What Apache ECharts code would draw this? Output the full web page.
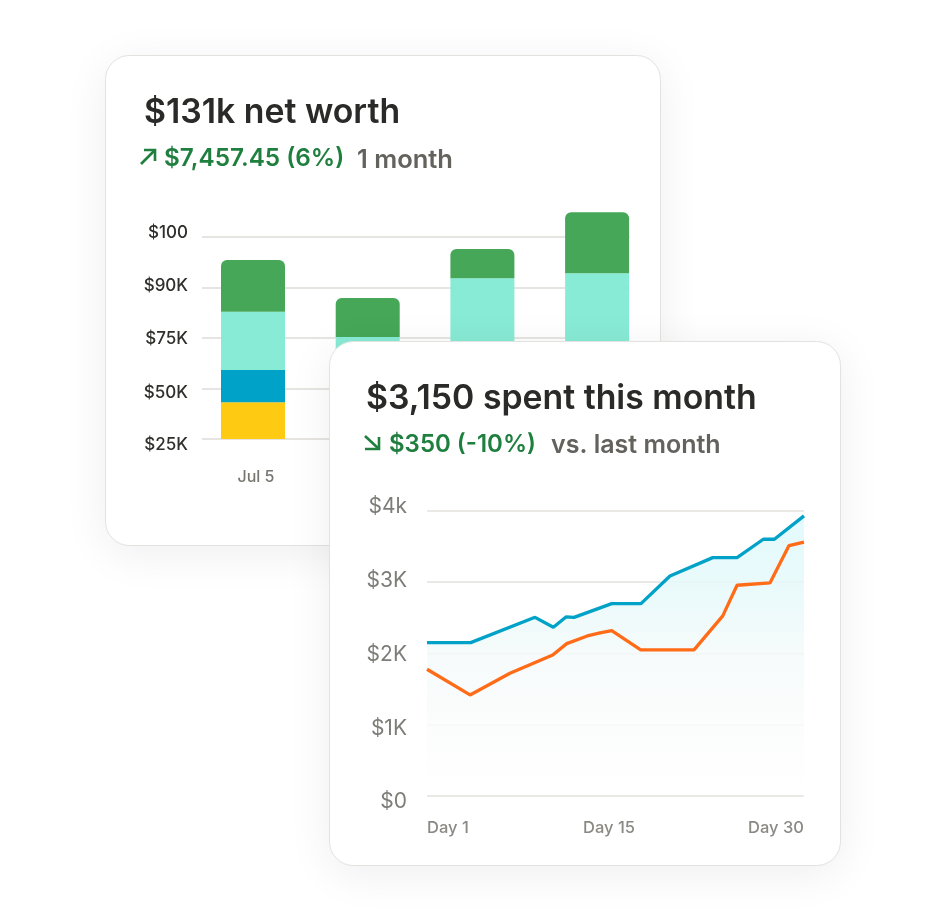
<!DOCTYPE html>
<html>
<head>
<meta charset="utf-8">
<title>Net worth and spending</title>
<script src="https://cdn.jsdelivr.net/npm/echarts@6/dist/echarts.min.js"></script>
<style>
  html, body { margin: 0; padding: 0; background: #fff; }
  #chart { width: 944px; height: 920px; }
</style>
</head>
<body>
<div id="chart"></div>
<script>
// bar card: the axis is evenly spaced but its labels are not, so values are in axis units
var barLabels = ['Jul 5', '', '', ''];
var barTicks = [25, 50, 75, 100, 125];
var barTickLabels = ['$25K', '$50K', '$75K', '$90K', '$100'];
var yellowValues = [43.1, 43.1, 43.1, 43.1];
var blueValues = [16, 16, 16, 16];
var mintValues = [28.8, 16.3, 45.3, 47.7];
var greenValues = [25.5, 19.2, 14.4, 30.2];

// line card
var lineTickLabels = ['$0', '$1K', '$2K', '$3K', '$4k'];
var lineDayTicks = [1, 15, 30];
var blueDays = [1, 4.36, 9.31, 10.72, 11.69, 12.31, 15.21, 17.46, 19.69, 22.98, 24.85, 26.87, 27.72, 30];
var blueSpend = [2150, 2150, 2505, 2366, 2510, 2505, 2697, 2697, 3085, 3342, 3342, 3600, 3600, 3927];
var orangeDays = [1, 4.31, 7.38, 10.67, 11.75, 13.33, 14.31, 15.21, 17.44, 21.54, 23.75, 24.85, 27.38, 28.85, 30];
var orangeSpend = [1777, 1417, 1721, 1978, 2136, 2244, 2286, 2318, 2048, 2048, 2525, 2955, 2987, 3511, 3558];

var FONT = 'Inter';
var labelShift = [5.5, 4.5, 1, -1, -4]; // tick labels drift away from their lines

function pairs(xs, ys) {
  return xs.map(function (x, i) { return [x, ys[i]]; });
}

// rich styles that nudge each tick label up or down
function shiftedLabels(fontSize, color, weight) {
  var rich = {};
  labelShift.forEach(function (s, i) {
    rich['t' + i] = {
      fontFamily: FONT, fontSize: fontSize, color: color, fontWeight: weight,
      padding: s > 0 ? [s * 2, 0, 0, 0] : [0, 0, -s * 2, 0]
    };
  });
  return rich;
}

function heading(text, left, top, size, color, weight) {
  return {
    text: text, left: left, top: top, padding: 0, z: 9,
    textStyle: { fontFamily: FONT, fontSize: size, color: color, fontWeight: weight }
  };
}

function card(x, y, w, h, z) {
  return {
    type: 'rect', z: z,
    shape: { x: x, y: y, width: w, height: h, r: 24 },
    style: {
      fill: '#fff', stroke: '#e2e2df', lineWidth: 1,
      shadowBlur: 45, shadowColor: 'rgba(0,0,0,0.07)', shadowOffsetY: 8
    }
  };
}

function arrow(points, head, z) {
  var style = { fill: 'none', stroke: '#1f7f3f', lineWidth: 2.6 };
  return [
    { type: 'polyline', z: z, shape: { points: points }, style: style },
    { type: 'polyline', z: z, shape: { points: head }, style: style }
  ];
}

// bars live in their own taller grid so the tallest one can rise above the $100 line
function barSeries(name, values, color, radius) {
  return {
    name: name, type: 'bar', stack: 'worth', xAxisIndex: 1, yAxisIndex: 1,
    barWidth: 64, z: 2,
    itemStyle: { color: color, borderRadius: radius },
    data: values
  };
}

var chart = echarts.init(document.getElementById('chart'));

chart.setOption({
  animation: false,
  backgroundColor: '#fff',
  title: [
    heading('$131k net worth', 144, 96, 33.8, '#2a2a28', 600),
    heading('$7,457.45 (6%)', 164, 147, 24.3, '#1f7f3f', 600),
    heading('1 month', 357, 147, 25.5, '#63625d', 600),
    heading('$3,150 spent this month', 366, 382, 33.8, '#2a2a28', 600),
    heading('$350 (-10%)', 389, 433, 24, '#1f7f3f', 600),
    heading('vs. last month', 551, 433, 25, '#63625d', 600)
  ],
  graphic: [card(105.5, 55.5, 555, 490, 0), card(329.5, 341.5, 511, 524, 3)]
    .concat(arrow([[141, 164], [155, 150]], [[144, 150], [155, 150], [155, 161]], 9))
    .concat(arrow([[365, 436], [379, 449]], [[365, 449], [379, 449], [379, 437]], 9)),
  grid: [
    { left: 202, top: 236.7, width: 427.5, height: 202.3 },
    { left: 195.65, top: 185.875, width: 458.8, height: 253.125 },
    { left: 427, top: 510.7, width: 377, height: 285.3 }
  ],
  xAxis: [
    { type: 'value', gridIndex: 0, show: false, min: 0, max: 1 },
    {
      type: 'category', gridIndex: 1, data: barLabels, z: 1,
      axisLine: { show: false }, axisTick: { show: false },
      axisLabel: {
        interval: 0, margin: 30, padding: [0, 0, 0, 6],
        fontFamily: FONT, fontSize: 16, color: '#77776f', fontWeight: 500
      }
    },
    {
      type: 'value', gridIndex: 2, min: 1, max: 30, z: 4,
      splitLine: { show: false }, axisLine: { show: false },
      axisTick: { show: false },
      axisLabel: {
        customValues: lineDayTicks, margin: 24,
        alignMinLabel: 'left', alignMaxLabel: 'right',
        fontFamily: FONT, fontSize: 16.5, color: '#8a8983', fontWeight: 500,
        formatter: function (v) { return 'Day ' + v; }
      }
    }
  ],
  yAxis: [
    {
      type: 'value', gridIndex: 0, min: 25, max: 125, interval: 25, z: 1,
      axisLine: { show: false }, axisTick: { show: false },
      splitLine: { lineStyle: { color: '#dedcd8', width: 1.5 } },
      axisLabel: {
        margin: 14,
        rich: shiftedLabels(17, '#2f2f2c', 500),
        formatter: function (v) {
          var i = barTicks.indexOf(v);
          return '{t' + i + '|' + barTickLabels[i] + '}';
        }
      }
    },
    { type: 'value', gridIndex: 1, show: false, min: 25, max: 150, splitLine: { show: false } },
    {
      type: 'value', gridIndex: 2, min: 0, max: 4000, interval: 1000, z: 4,
      axisLine: { show: false }, axisTick: { show: false },
      splitLine: { lineStyle: { color: '#e5e2de', width: 1.5 } },
      axisLabel: {
        margin: 20,
        rich: shiftedLabels(21, '#7d7d78', 400),
        formatter: function (v) {
          var i = v / 1000;
          return '{t' + i + '|' + lineTickLabels[i] + '}';
        }
      }
    }
  ],
  series: [
    barSeries('Yellow', yellowValues, '#ffcb12', 0),
    barSeries('Blue', blueValues, '#00a2c7', 0),
    barSeries('Mint', mintValues, '#88ebd5', 0),
    barSeries('Green', greenValues, '#46a758', [6, 6, 0, 0]),
    {
      name: 'This month', type: 'line', xAxisIndex: 2, yAxisIndex: 2, z: 6,
      showSymbol: false, lineStyle: { color: '#00a2c7', width: 3.3 },
      areaStyle: {
        opacity: 1,
        color: new echarts.graphic.LinearGradient(0, 0, 0, 1, [
          { offset: 0, color: 'rgba(222,249,252,0.85)' },
          { offset: 0.3, color: 'rgba(232,249,250,0.85)' },
          { offset: 0.5, color: 'rgba(245,250,250,0.85)' },
          { offset: 0.75, color: 'rgba(251,252,252,0.85)' },
          { offset: 0.9, color: 'rgba(253,253,253,0.6)' },
          { offset: 1, color: 'rgba(255,255,255,0)' }
        ])
      },
      data: pairs(blueDays, blueSpend)
    },
    {
      name: 'Last month', type: 'line', xAxisIndex: 2, yAxisIndex: 2, z: 7,
      showSymbol: false, lineStyle: { color: '#ff6b17', width: 3.3 },
      data: pairs(orangeDays, orangeSpend)
    }
  ]
});
</script>
</body>
</html>
